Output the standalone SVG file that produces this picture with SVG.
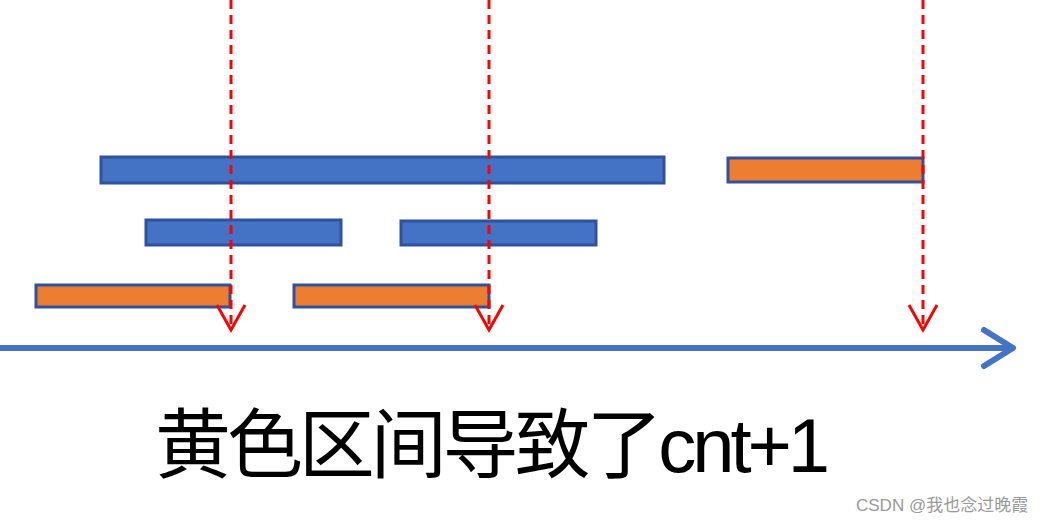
<svg xmlns="http://www.w3.org/2000/svg" width="1061" height="524" viewBox="0 0 1061 524">
<style>
.b{fill:#4472C4;stroke:#2F52A0;stroke-width:3}
.o{fill:#ED7D31;stroke:#2F52A0;stroke-width:3}
.r{stroke:#FF0000;stroke-width:3;fill:none;stroke-dasharray:9,6}
.ra{stroke:#FF0000;stroke-width:3;fill:none}
</style>
<rect width="1061" height="524" fill="#fff"/>
<g id="bar1"><rect class="b" x="101" y="157" width="563" height="26"/></g>
<g id="bar2"><rect class="o" x="728" y="158" width="195" height="24"/></g>
<g id="bar3"><rect class="b" x="146" y="220" width="195" height="25"/></g>
<g id="bar4"><rect class="b" x="401" y="221" width="195" height="24"/></g>
<g id="bar5"><rect class="o" x="36" y="285" width="194" height="22"/></g>
<g id="bar6"><rect class="o" x="294" y="285" width="195" height="22"/></g>
<g id="connectors">
<line class="r" x1="231" y1="0" x2="231" y2="328"/>
<polyline class="ra" points="217,305 231,330 245,305"/>
<line class="r" x1="489" y1="0" x2="489" y2="328"/>
<polyline class="ra" points="475,305 489,330 503,305"/>
<line class="r" x1="923" y1="0" x2="923" y2="328"/>
<polyline class="ra" points="909,305 923,330 937,305"/>
<line x1="0" y1="348" x2="1012" y2="348" stroke="#4472C4" stroke-width="6"/>
<polyline points="984,330 1013,348 984,366" fill="none" stroke="#4472C4" stroke-width="6" stroke-linecap="round" stroke-linejoin="round"/>
</g>
<text x="155" y="472" font-family="'Liberation Sans','Noto Sans CJK SC',sans-serif" font-size="76" textLength="675" fill="#000">黄色区间导致了cnt+1</text>
<text x="856" y="511" font-family="'Liberation Sans','Noto Sans CJK SC',sans-serif" font-size="17" fill="#999">CSDN @我也念过晚霞</text>
</svg>
